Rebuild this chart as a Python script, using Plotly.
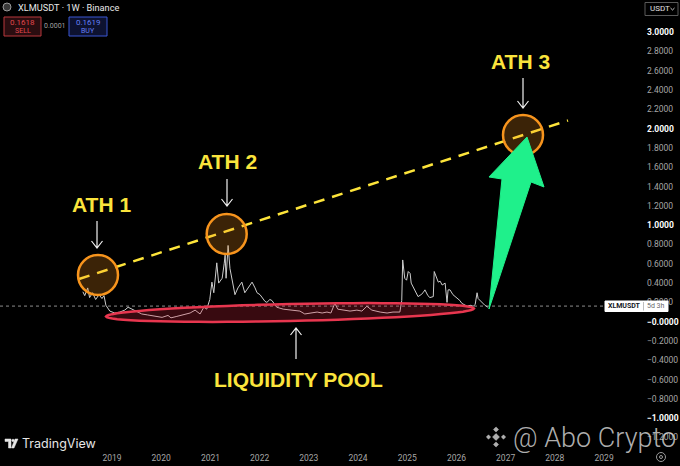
import math
import plotly.graph_objects as go

# ---------------- data ----------------
dates = [
    "2018-05-30", "2018-06-13", "2018-07-05", "2018-07-19", "2018-08-10", "2018-09-02",
    "2018-09-27", "2018-10-19", "2018-11-03", "2018-11-17", "2018-12-16",
    "2019-01-22", "2019-02-28", "2019-04-06", "2019-05-01", "2019-05-30", "2019-07-05",
    "2019-08-10", "2019-09-23", "2019-11-13",
    "2020-01-08", "2020-02-21", "2020-03-14", "2020-04-27", "2020-06-10", "2020-08-03",
    "2020-09-09", "2020-10-16", "2020-11-13", "2020-12-05", "2020-12-27",
    "2021-01-12", "2021-01-26", "2021-02-17", "2021-03-03", "2021-03-29", "2021-04-13",
    "2021-04-20", "2021-04-27", "2021-05-12", "2021-05-26", "2021-06-10", "2021-07-02",
    "2021-07-24", "2021-08-22", "2021-09-13", "2021-09-27", "2021-10-19", "2021-11-06",
    "2021-11-28", "2021-12-13",
    "2022-01-04", "2022-01-19", "2022-02-10", "2022-02-24", "2022-03-18", "2022-04-02",
    "2022-04-24", "2022-05-08", "2022-06-25", "2022-08-15", "2022-10-27", "2022-12-02",
    "2023-01-08", "2023-03-04", "2023-04-10", "2023-05-16", "2023-06-14", "2023-07-13",
    "2023-08-04", "2023-09-10", "2023-11-03", "2023-12-24",
    "2024-01-30", "2024-03-07", "2024-04-13", "2024-06-14", "2024-08-04", "2024-09-17",
    "2024-11-07", "2024-11-21", "2024-11-28", "2024-12-13", "2024-12-27",
    "2025-01-08", "2025-01-22", "2025-01-30", "2025-02-14", "2025-02-28", "2025-03-22",
    "2025-04-13", "2025-04-28", "2025-05-12", "2025-06-03", "2025-06-18", "2025-07-13",
    "2025-07-20", "2025-08-04", "2025-08-19", "2025-09-02", "2025-09-17", "2025-10-09",
    "2025-10-23", "2025-10-31", "2025-11-14", "2025-12-06",
    "2026-01-04", "2026-01-26", "2026-02-10", "2026-03-07", "2026-03-22", "2026-04-13",
    "2026-05-06", "2026-05-20", "2026-06-03", "2026-06-11", "2026-06-25", "2026-07-09",
    "2026-07-31", "2026-08-22",
]
price = [
    0.31, 0.27, 0.35, 0.25, 0.30, 0.23,
    0.28, 0.24, 0.27, 0.17, 0.11,
    0.09, 0.10, 0.12, 0.15, 0.13, 0.10,
    0.08, 0.07, 0.06,
    0.045, 0.065, 0.04, 0.055, 0.07, 0.09,
    0.12, 0.08, 0.15, 0.13, 0.23,
    0.41, 0.30, 0.61, 0.40, 0.45, 0.60,
    0.69, 0.45, 0.79, 0.55, 0.45, 0.28,
    0.35, 0.41, 0.30, 0.33, 0.38, 0.41,
    0.35, 0.30,
    0.28, 0.25, 0.21, 0.20, 0.23, 0.22,
    0.18, 0.15, 0.13, 0.12, 0.11, 0.08,
    0.09, 0.10, 0.09, 0.10, 0.09, 0.19,
    0.13, 0.12, 0.11, 0.12,
    0.11, 0.16, 0.12, 0.10, 0.09, 0.10,
    0.10, 0.22, 0.64, 0.45, 0.43,
    0.52, 0.50, 0.40, 0.36, 0.32, 0.26,
    0.28, 0.30, 0.33, 0.27, 0.25, 0.26,
    0.52, 0.46, 0.41, 0.42, 0.38, 0.40,
    0.20, 0.33, 0.33, 0.28,
    0.25, 0.22, 0.19, 0.17, 0.16, 0.17,
    0.16, 0.18, 0.30, 0.24, 0.22, 0.20,
    0.17, 0.15,
]
current_price = 0.1618
year_ticks = ["2019", "2020", "2021", "2022", "2023", "2024", "2025", "2026", "2027", "2028", "2029"]
price_ticks = [-1.2, -1.0, -0.8, -0.6, -0.4, -0.2, 0.0, 0.2, 0.4, 0.6, 0.8, 1.0,
               1.2, 1.4, 1.6, 1.8, 2.0, 2.2, 2.4, 2.6, 2.8, 3.0]

# ---------------- layout geometry ----------------
W, H = 680, 466
PL, PR, PT, PB = 0, 606, 0, 447   # plot area in pixels


def px(x):
    return (x - PL) / (PR - PL)


def py(y):
    return (PB - y) / (PB - PT)


def tick_label(v):
    s = "%.4f" % abs(v)
    s = ("\u2212" if v < 0 or abs(v) < 1e-9 else "") + s
    if abs(v - round(v)) < 1e-9:
        return '<span style="color:#ffffff"><b>%s</b></span>' % s
    return s


fig = go.Figure()
fig.add_trace(go.Scatter(
    x=dates, y=price, mode="lines",
    line=dict(color="#cdcdcd", width=1),
    hoverinfo="skip", showlegend=False,
))

shapes = []
ann = []

# current price dotted line
shapes.append(dict(type="line", xref="paper", x0=0, x1=1, yref="y",
                   y0=current_price, y1=current_price,
                   line=dict(color="#8c8c8c", width=1, dash="dot"), layer="below"))

# red liquidity ellipse (tilted)
cx, cy, a, b = 290, 312.5, 184, 8.5
th = -0.0217
pts = []
for i in range(73):
    t = 2 * math.pi * i / 72
    x = cx + a * math.cos(t) * math.cos(th) - b * math.sin(t) * math.sin(th)
    y = cy + a * math.cos(t) * math.sin(th) + b * math.sin(t) * math.cos(th)
    pts.append("%s%.5f,%.5f" % ("M" if i == 0 else "L", px(x), py(y)))
shapes.append(dict(type="path", xref="paper", yref="paper", path=" ".join(pts) + " Z",
                   line=dict(color="#e8364f", width=2.5),
                   fillcolor="rgba(215,40,60,0.26)"))

# dashed yellow trend line
shapes.append(dict(type="line", xref="paper", yref="paper",
                   x0=px(79), y0=py(279), x1=px(568), y1=py(120.5),
                   line=dict(color="#fde43a", width=2.5, dash="11px,8px")))

# ATH circles
for (ccx, ccy, r) in [(98, 275, 20), (226.7, 234, 20), (523, 135, 20)]:
    shapes.append(dict(type="circle", xref="paper", yref="paper",
                       x0=px(ccx - r), x1=px(ccx + r), y0=py(ccy + r), y1=py(ccy - r),
                       line=dict(color="#f7941d", width=2.5),
                       fillcolor="rgba(247,148,29,0.24)"))

# white pointer arrows (down)
for (ax, top, tip) in [(97, 221, 248), (227, 179, 206), (523, 78, 108)]:
    path = "M%.5f,%.5f L%.5f,%.5f M%.5f,%.5f L%.5f,%.5f L%.5f,%.5f" % (
        px(ax), py(top), px(ax), py(tip),
        px(ax - 5.5), py(tip - 7), px(ax), py(tip), px(ax + 5.5), py(tip - 7))
    shapes.append(dict(type="path", xref="paper", yref="paper", path=path,
                       line=dict(color="#f2f2f2", width=1.2)))
# white pointer arrow (up) under the pool
ax, tip, bot = 296, 328, 359
path = "M%.5f,%.5f L%.5f,%.5f M%.5f,%.5f L%.5f,%.5f L%.5f,%.5f" % (
    px(ax), py(bot), px(ax), py(tip),
    px(ax - 5.5), py(tip + 7), px(ax), py(tip), px(ax + 5.5), py(tip + 7))
shapes.append(dict(type="path", xref="paper", yref="paper", path=path,
                   line=dict(color="#f2f2f2", width=1.2)))

# green arrow
garrow = [(489, 309), (502, 179), (489, 177), (527, 137), (544, 187), (531, 182)]
gpath = " ".join("%s%.5f,%.5f" % ("M" if i == 0 else "L", px(x), py(y))
                 for i, (x, y) in enumerate(garrow)) + " Z"
shapes.append(dict(type="path", xref="paper", yref="paper", path=gpath,
                   line=dict(color="#1ff08b", width=1), fillcolor="#1ff08b"))

# ---- header (top-left) ----
shapes.append(dict(type="circle", xref="paper", yref="paper",
                   x0=px(3), x1=px(11), y0=py(11), y1=py(3),
                   line=dict(color="#9a9a9a", width=1), fillcolor="#3a3a3a"))
ann.append(dict(x=px(16), y=py(7.5), text="XLMUSDT · 1W · Binance", xanchor="left",
                yanchor="middle", font=dict(color="#e8e8e8", size=9.2, family="Roboto")))
shapes.append(dict(type="rect", xref="paper", yref="paper",
                   x0=px(4), x1=px(41), y0=py(36), y1=py(17),
                   line=dict(color="#b8383c", width=1), fillcolor="#2a0d10"))
shapes.append(dict(type="rect", xref="paper", yref="paper",
                   x0=px(69), x1=px(107), y0=py(36), y1=py(17),
                   line=dict(color="#3b57d3", width=1), fillcolor="#0d1230"))
ann.append(dict(x=px(22.5), y=py(22.5), text="0.1618", font=dict(color="#e0484d", size=8, family="Roboto")))
ann.append(dict(x=px(22.5), y=py(31), text="SELL", font=dict(color="#e0484d", size=7, family="Roboto")))
ann.append(dict(x=px(55), y=py(26), text="0.0001", font=dict(color="#a0a0a0", size=7, family="Roboto")))
ann.append(dict(x=px(88), y=py(22.5), text="0.1619", font=dict(color="#6480f5", size=8, family="Roboto")))
ann.append(dict(x=px(88), y=py(31), text="BUY", font=dict(color="#6480f5", size=7, family="Roboto")))

# ---- USDT selector (top-right) ----
shapes.append(dict(type="rect", xref="paper", yref="paper",
                   x0=px(645), x1=px(678), y0=py(15.5), y1=py(2.5),
                   line=dict(color="#5a5a5a", width=1), fillcolor="#000000"))
ann.append(dict(x=px(647.5), y=py(9), text="USDT", xanchor="left",
                font=dict(color="#e0e0e0", size=8, family="Roboto")))
shapes.append(dict(type="path", xref="paper", yref="paper",
                   path="M%.5f,%.5f L%.5f,%.5f L%.5f,%.5f" % (px(670.5), py(8), px(672.5), py(10), px(674.5), py(8)),
                   line=dict(color="#cfcfcf", width=1)))

# ---- price tag on the scale ----
shapes.append(dict(type="rect", xref="paper", yref="paper",
                   x0=px(605), x1=px(668), y0=py(311.5), y1=py(301),
                   line=dict(color="#ffffff", width=1), fillcolor="#ffffff"))
shapes.append(dict(type="line", xref="paper", yref="paper",
                   x0=px(643.5), x1=px(643.5), y0=py(310.5), y1=py(302),
                   line=dict(color="#bdbdbd", width=1)))
ann.append(dict(x=px(624), y=py(306.3), text="<b>XLMUSDT</b>",
                font=dict(color="#131722", size=7, family="Roboto")))
ann.append(dict(x=px(656), y=py(306.3), text="5d 3h",
                font=dict(color="#6a6a6a", size=7, family="Roboto")))

# ---- big labels ----
lab_font = dict(color="#fbe43c", size=21, family="Liberation Sans, Arial")
ann.append(dict(x=px(101), y=py(204), text="<b>ATH 1</b>", font=lab_font))
ann.append(dict(x=px(227), y=py(161), text="<b>ATH 2</b>", font=lab_font))
ann.append(dict(x=px(520), y=py(62), text="<b>ATH 3</b>", font=lab_font))
ann.append(dict(x=px(298), y=py(379), text="<b>LIQUIDITY POOL</b>", font=lab_font))

# ---- TradingView logo ----
shapes.append(dict(type="path", xref="paper", yref="paper",
                   path="M%.5f,%.5f L%.5f,%.5f L%.5f,%.5f L%.5f,%.5f L%.5f,%.5f L%.5f,%.5f Z" % (
                       px(5), py(439), px(11), py(439), px(11), py(448),
                       px(8.5), py(448), px(8.5), py(441.5), px(5), py(441.5)),
                   line=dict(color="#e6e6e6", width=0.5), fillcolor="#e6e6e6"))
shapes.append(dict(type="circle", xref="paper", yref="paper",
                   x0=px(11.8), x1=px(14.2), y0=py(441.6), y1=py(439.2),
                   line=dict(color="#e6e6e6", width=0.5), fillcolor="#e6e6e6"))
shapes.append(dict(type="path", xref="paper", yref="paper",
                   path="M%.5f,%.5f L%.5f,%.5f L%.5f,%.5f L%.5f,%.5f Z" % (
                       px(15), py(439), px(18), py(439), px(14), py(448), px(11.5), py(448)),
                   line=dict(color="#e6e6e6", width=0.5), fillcolor="#e6e6e6"))
ann.append(dict(x=px(20), y=py(443.5), text="TradingView", xanchor="left",
                font=dict(color="#e6e6e6", size=12.5, family="Inter")))

# ---- watermark ----
bx, by = 496, 437
def diamond(x, y, s):
    return "M%.5f,%.5f L%.5f,%.5f L%.5f,%.5f L%.5f,%.5f Z" % (
        px(x), py(y - s), px(x + s), py(y), px(x), py(y + s), px(x - s), py(y))
for (dx, dy, s) in [(0, 0, 3.5), (0, -7.5, 2.6), (0, 7.5, 2.6), (-7.5, 0, 2.2), (7.5, 0, 2.2)]:
    shapes.append(dict(type="path", xref="paper", yref="paper", path=diamond(bx + dx, by + dy, s),
                       line=dict(color="rgba(205,205,205,0.85)", width=0.5),
                       fillcolor="rgba(205,205,205,0.85)"))
ann.append(dict(x=px(511), y=py(438), text="@ Abo Crypto", xanchor="left",
                font=dict(color="rgba(215,215,215,0.82)", size=27, family="Roboto", weight=300)))

# ---- settings icon ----
shapes.append(dict(type="circle", xref="paper", yref="paper",
                   x0=px(656.5), x1=px(665.5), y0=py(461.5), y1=py(452.5),
                   line=dict(color="#9a9a9a", width=1)))
shapes.append(dict(type="circle", xref="paper", yref="paper",
                   x0=px(659.5), x1=px(662.5), y0=py(458.5), y1=py(455.5),
                   line=dict(color="#9a9a9a", width=1)))

for a_ in ann:
    a_.setdefault("xref", "paper")
    a_.setdefault("yref", "paper")
    a_.setdefault("showarrow", False)
    a_.setdefault("xanchor", "center")
    a_.setdefault("yanchor", "middle")

fig.update_layout(
    width=W, height=H,
    margin=dict(l=PL, r=W - PR, t=PT, b=H - PB, autoexpand=False),
    paper_bgcolor="#000000", plot_bgcolor="#000000",
    shapes=shapes, annotations=ann, showlegend=False,
    xaxis=dict(type="date", range=["2016-09-22", "2029-01-15"],
               tickvals=[y + "-01-01" for y in year_ticks], ticktext=year_ticks,
               tickfont=dict(color="#a6a6a6", size=8.5, family="Roboto"),
               showgrid=False, zeroline=False, showline=False, ticks="",
               ticklabelstandoff=4, fixedrange=True),
    yaxis=dict(side="right", range=[(321.7 - 447) / 96.5, 321.7 / 96.5],
               tickvals=price_ticks, ticktext=[tick_label(v) for v in price_ticks],
               tickfont=dict(color="#a6a6a6", size=8.5, family="Roboto"),
               showgrid=False, zeroline=False, showline=False, ticks="",
               ticklabelstandoff=40, fixedrange=True),
)

fig.write_html(
    "out.html",
    config={"displayModeBar": False},
    post_script="document.body.style.margin='0';document.body.style.background='#000';"
                "document.body.style.overflow='hidden';",
)
